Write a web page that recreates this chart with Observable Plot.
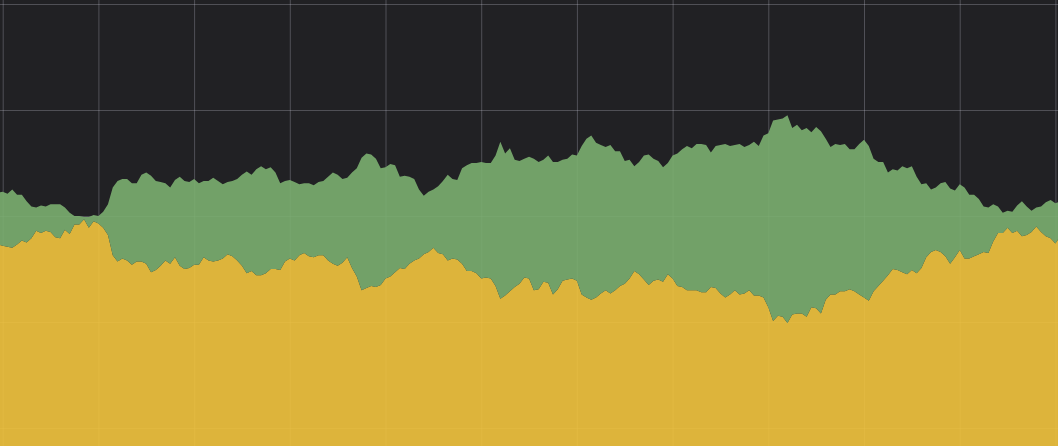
<!DOCTYPE html>
<html>
<head>
<meta charset="utf-8">
<script src="https://cdn.jsdelivr.net/npm/d3@7"></script>
<script src="https://cdn.jsdelivr.net/npm/@observablehq/plot@0.6"></script>
<style>
  html, body { margin: 0; padding: 0; background: #212124; overflow: hidden; }
  #chart svg { display: block; }
</style>
</head>
<body>
<div id="chart"></div>
<script>
// Time axis: first sample and spacing (grid every 10 units)
const startTime = -0.5;
const timeStep = 0.5;
const xTicks = [0, 10, 20, 30, 40, 50, 60, 70, 80, 90, 100, 110];
const yTicks = [0, 100, 200, 300, 400];

// Bottom series (yellow)
const yellowSeries = [
  173,172,171,170,173,177,175,179,186,184,
  186,185,180,179,187,183,192,192,197,189,
  195,193,189,182,163,157,160,158,154,157,
  157,155,147,149,153,158,155,161,153,150,
  151,154,154,161,158,157,158,160,164,162,
  158,153,146,148,144,144,146,150,150,149,
  157,160,158,163,165,162,161,163,163,158,
  155,153,156,161,151,143,130,132,134,133,
  135,141,143,147,151,150,155,158,160,164,
  166,170,165,164,158,160,159,155,148,148,
  146,141,142,141,134,122,125,129,133,136,
  142,141,130,131,138,137,126,131,139,140,
  141,139,126,123,121,123,127,130,127,130,
  134,136,141,148,145,140,135,139,140,138,
  145,141,134,133,130,130,130,128,128,133,
  132,127,123,126,130,126,127,130,125,125,
  123,114,101,106,105,99,107,108,108,105,
  114,113,108,121,126,126,129,129,131,129,
  126,123,120,129,134,139,144,150,149,147,
  145,149,146,151,161,166,168,166,162,155,
  161,168,160,160,162,164,166,165,176,184,
  184,189,184,186,181,182,185,190,185,181,
  179,174,181
];

// Top series (green), stacked on yellow
const greenSeries = [
  49,51,50,55,47,43,39,30,22,26,
  23,26,31,32,21,20,8,8,2,10,
  6,7,15,29,64,76,75,77,77,74,
  82,86,91,84,79,73,72,73,84,83,
  81,81,77,72,75,79,75,70,68,71,
  77,86,96,91,100,103,98,96,91,82,
  76,74,74,67,66,69,68,69,70,79,
  86,86,79,75,90,102,125,127,124,121,
  110,105,106,101,86,88,82,77,65,55,
  57,55,63,69,81,75,75,90,100,102,
  104,110,108,109,123,148,134,135,120,116,
  112,115,124,120,115,120,125,120,114,114,
  117,118,140,150,155,146,140,135,140,131,
  127,116,112,99,106,117,123,115,112,108,
  105,116,125,130,136,134,138,140,139,127,
  134,140,145,140,137,142,138,137,145,141,
  153,164,189,185,187,196,176,178,173,178,
  165,171,172,152,139,142,138,139,132,134,
  142,149,146,125,117,112,97,94,94,100,
  100,98,91,79,70,59,59,65,70,71,
  63,62,67,60,58,52,43,43,35,25,
  19,16,20,24,33,27,20,18,24,32,
  36,38,33
];

const yMin = -17;
const rows = yellowSeries.map((v, i) => ({
  t: startTime + i * timeStep,
  yellow: v,
  total: v + greenSeries[i]
}));

const gridStroke = "#ccccdc";
const chart = Plot.plot({
  width: 1058,
  height: 446,
  margin: 0,
  x: { domain: [-0.282, 110.27], axis: null },
  y: { domain: [yMin, 403.8], axis: null },
  style: { background: "#212124" },
  marks: [
    Plot.ruleX(xTicks, { stroke: gridStroke, strokeOpacity: 0.28 }),
    Plot.ruleY(yTicks, { stroke: gridStroke, strokeOpacity: 0.28 }),
    Plot.areaY(rows, { x: "t", y1: yMin, y2: "yellow", fill: "#eec13e", fillOpacity: 0.92, clip: true }),
    Plot.areaY(rows, { x: "t", y1: "yellow", y2: "total", fill: "#7aad6f", fillOpacity: 0.92, clip: true })
  ]
});
document.getElementById("chart").appendChild(chart);
</script>
</body>
</html>
